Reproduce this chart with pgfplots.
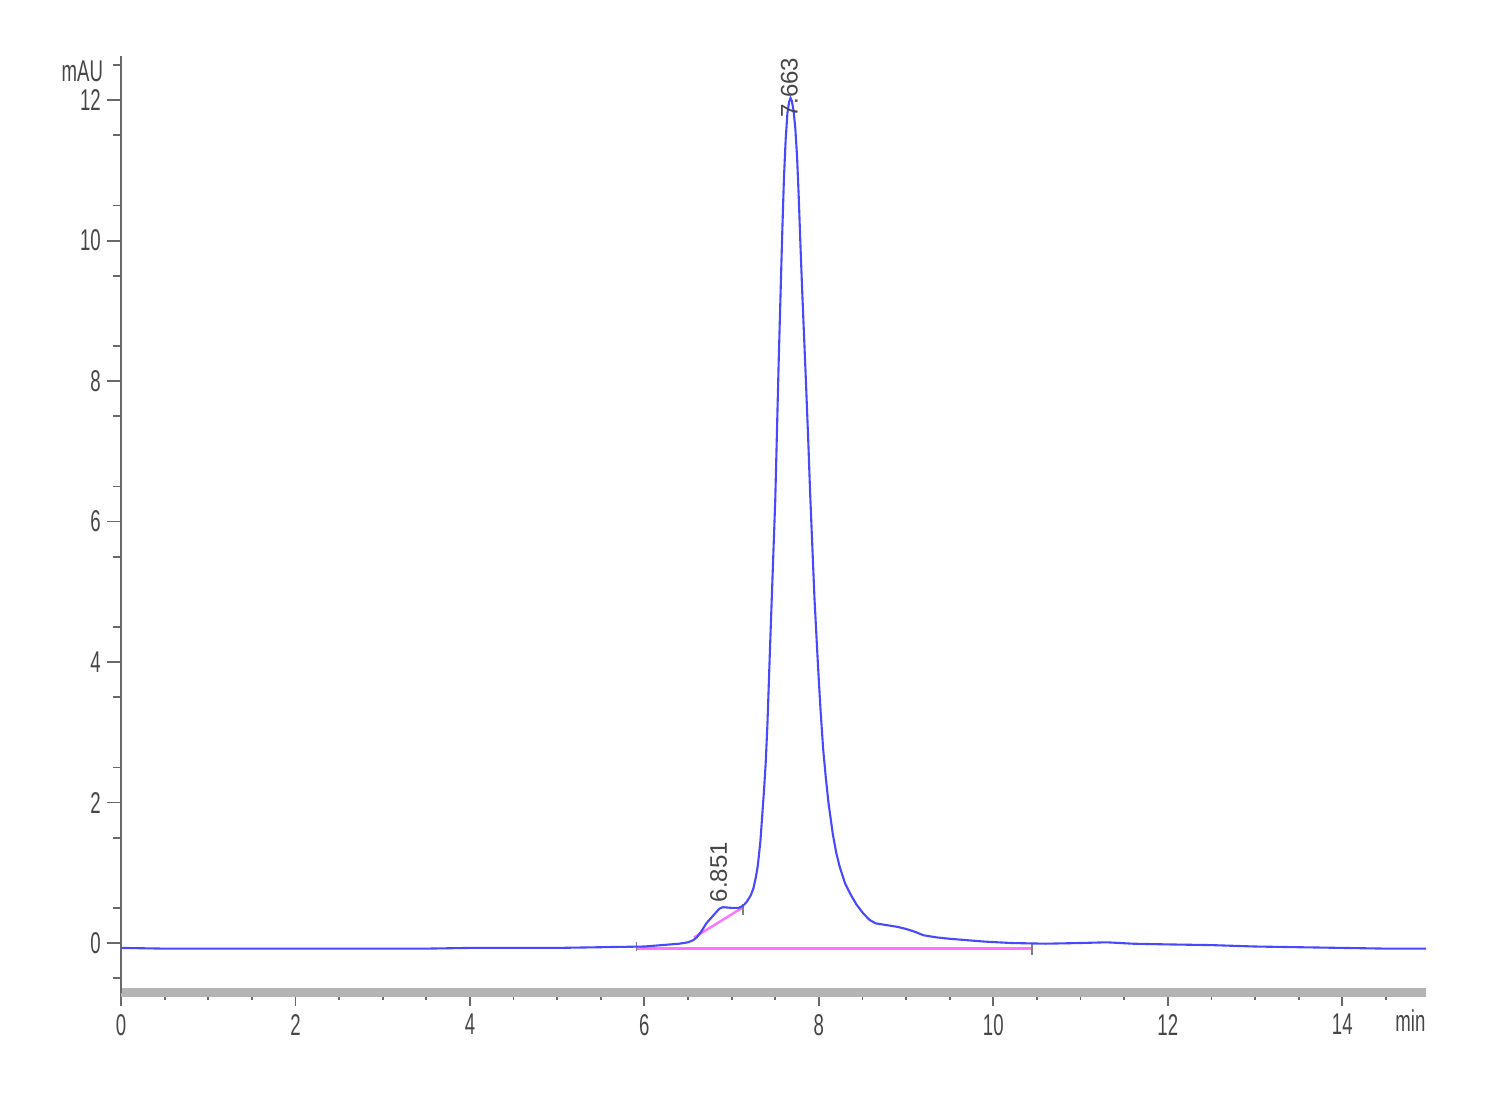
\documentclass[border=0pt]{standalone}
\usepackage{fontspec}
\setmainfont{Liberation Sans}[FakeStretch=0.62]
\newfontfamily\peakfont{Liberation Sans}
\usepackage{pgfplots}
\pgfplotsset{compat=1.18}
\definecolor{trace}{RGB}{72,72,255}
\definecolor{basel}{RGB}{255,115,255}
\definecolor{axgray}{RGB}{105,105,105}
\definecolor{bandgray}{RGB}{180,180,180}
\definecolor{lblgray}{RGB}{70,70,70}
\begin{document}
\begin{tikzpicture}
\path[use as bounding box] (0,0) rectangle (500pt,366.667pt);
\begin{axis}[
  at={(40.33pt,35.83pt)}, anchor=south west,
  scale only axis, width=435pt, height=312.2pt,
  xmin=0, xmax=14.96, ymin=-0.705, ymax=12.63,
  axis x line=bottom, axis y line=left,
  x axis line style={draw=bandgray, line width=3pt, -},
  y axis line style={draw=axgray, line width=0.7pt, -},
  xtick={0,2,...,14}, ytick={0,2,...,12},
  minor xtick={0,0.5,...,14.5}, minor ytick={-0.5,0.5,...,12.5},
  tick align=outside,
  major tick length=4.5pt, minor tick length=2.5pt,
  every tick/.style={axgray, line width=0.6pt},
  /pgf/number format/assume math mode=true,
  xticklabel style={font=\fontsize{10}{12}\selectfont, text=lblgray, yshift=0.8pt},
  yticklabel style={font=\fontsize{10}{12}\selectfont, text=lblgray, xshift=1.3pt},
  clip=false,
]
% integration baselines
\addplot[basel, line width=1.1pt] coordinates {(5.91,-0.08) (10.44,-0.08)};
\addplot[basel, line width=0.8pt] coordinates {(6.57,0.08) (7.12,0.50)};
% baseline end markers
\addplot[gray, line width=0.6pt] coordinates {(5.91,0.02) (5.91,-0.12)};
\addplot[gray, line width=0.6pt] coordinates {(7.13,0.55) (7.13,0.40)};
\addplot[gray, line width=0.6pt] coordinates {(10.44,-0.02) (10.44,-0.17)};
% chromatogram trace
\addplot[trace, line width=0.7pt] coordinates {
(0,-0.07) (0.5,-0.08) (1,-0.08) (1.5,-0.08) (2,-0.08) (2.5,-0.08) (3,-0.08)
(3.5,-0.08) (4,-0.07) (4.5,-0.07) (5,-0.07) (5.5,-0.06) (6.0,-0.05)
(6.2,-0.03) (6.4,-0.01) (6.5,0.01) (6.56,0.04) (6.6,0.08) (6.65,0.16) (6.71,0.28)
(6.76,0.35) (6.81,0.42) (6.86,0.49) (6.9,0.51) (7.0,0.50) (7.08,0.50)
(7.13,0.53) (7.17,0.58) (7.22,0.68) (7.25,0.78) (7.28,0.95) (7.30,1.10)
(7.33,1.45) (7.35,1.80) (7.37,2.15) (7.39,2.55) (7.41,3.1) (7.42,3.46)
(7.44,4.2) (7.46,4.9) (7.48,5.6) (7.50,6.3) (7.52,7.3) (7.54,8.3)
(7.56,9.2) (7.58,10.1) (7.60,10.9) (7.62,11.45) (7.64,11.82) (7.66,11.98)
(7.675,12.03) (7.69,11.99) (7.71,11.85) (7.73,11.6) (7.75,11.2) (7.77,10.6)
(7.79,9.9) (7.81,9.25)
(7.85,8.05) (7.88,7.1) (7.90,6.4) (7.93,5.5) (7.95,4.9) (7.99,3.95)
(8.02,3.3) (8.05,2.75) (8.08,2.35) (8.11,2.0) (8.16,1.55) (8.20,1.28)
(8.24,1.08) (8.30,0.85) (8.36,0.70) (8.43,0.55) (8.51,0.42) (8.58,0.33)
(8.65,0.28) (8.75,0.26) (8.9,0.23) (9.0,0.20) (9.1,0.16) (9.2,0.11)
(9.35,0.08) (9.5,0.06) (9.7,0.04) (9.9,0.02) (10.2,0.0) (10.6,-0.01)
(11.0,0.0) (11.3,0.01) (11.6,-0.01) (12.0,-0.02) (12.5,-0.03) (13.0,-0.05)
(13.5,-0.06) (14.0,-0.07) (14.5,-0.08) (14.96,-0.08)
};
% peak labels
\node[rotate=90, anchor=west, inner sep=0.5pt, text=lblgray, font=\peakfont\fontsize{8}{9}\selectfont] at (axis cs:6.851,0.55) {6.851};
\node[rotate=90, anchor=west, inner sep=0.5pt, text=lblgray, font=\peakfont\fontsize{8}{9}\selectfont] at (axis cs:7.663,11.72) {7.663};
% unit labels
\node[anchor=east, text=lblgray, font=\fontsize{10}{12}\selectfont, inner sep=0pt] at ([xshift=-5.8pt,yshift=-5.2pt]rel axis cs:0,1) {mAU};
\node[anchor=east, text=lblgray, font=\fontsize{10}{12}\selectfont, inner sep=0pt] at ([yshift=-9.5pt]rel axis cs:1,0) {min};
\end{axis}
\end{tikzpicture}
\end{document}
